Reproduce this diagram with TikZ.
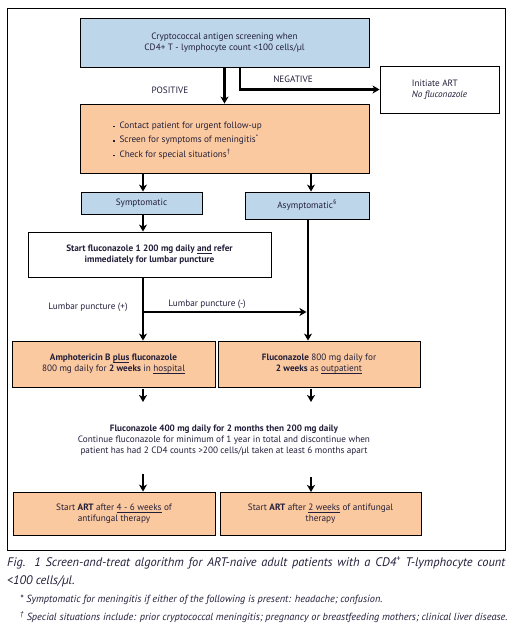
\documentclass[tikz,border=0pt]{standalone}
\usepackage{fontspec}
\setmainfont{PT Sans}
\usetikzlibrary{arrows.meta,calc}
\definecolor{bluebox}{RGB}{190,214,234}
\definecolor{orangebox}{RGB}{251,201,159}
\definecolor{txt}{RGB}{35,31,58}
\newcommand\sqbul{\rule[1pt]{1.8pt}{1.8pt}\hspace{4.5pt}}
\newcommand\ulx[1]{\underline{\smash{#1}}}
\begin{document}
\begin{tikzpicture}[x=1pt,y=-1pt,
  box/.style={draw=black,line width=0.9pt,inner sep=2pt,align=center,
    font=\fontsize{9.2}{11}\selectfont,text=txt},
  bluefill/.style={box,fill=bluebox},
  orangefill/.style={box,fill=orangebox},
  whitefill/.style={box,fill=white},
  arr/.style={line width=2.3pt,-{Stealth[length=7pt,width=8pt,inset=2pt]}},
  lbl/.style={font=\fontsize{9.2}{11}\selectfont,text=txt,inner sep=0pt},
  captext/.style={font=\fontsize{12.4}{18}\itshape\selectfont,text=txt,inner sep=0pt,anchor=base west},
  foot/.style={font=\fontsize{10.3}{18}\itshape\selectfont,text=txt,inner sep=0pt,anchor=base west}
]
\useasboundingbox (0,0) rectangle (519,627);
\fill[white] (0,0) rectangle (519,627);
\node[draw=black,line width=1pt,minimum width=498pt,minimum height=542pt,inner sep=0pt] (frame) at (256,279) {};

\node[bluefill,minimum width=289pt,minimum height=49pt] (top) at (224.5,42.5)
  {Cryptococcal antigen screening when\\CD4+ T - lymphocyte count <100 cells/µl};
\node[whitefill,minimum width=119pt,minimum height=47pt,align=left] (init) at (439.5,89.5)
  {Initiate ART\\\textit{No fluconazole}};
\node[orangefill,minimum width=289pt,minimum height=69pt] (screen) at (224.5,138.5) {};
\node[lbl,anchor=west,align=left,font=\fontsize{9.2}{14.5}\selectfont] (bul) at (113,140.5)
  {\sqbul Contact patient for urgent follow-up\\
   \sqbul Screen for symptoms of meningitis\textsuperscript{*}\\
   \sqbul Check for special situations\textsuperscript{†}};
\node[bluefill,minimum width=121pt,minimum height=22pt] (symp) at (141.5,203) {Symptomatic};
\node[bluefill,minimum width=124pt,minimum height=27pt] (asym) at (307,205.5) {Asymptomatic\textsuperscript{§}};
\node[whitefill,minimum width=243pt,minimum height=45pt,font=\fontsize{9.2}{11}\bfseries\selectfont] (start) at (149.5,254.5)
  {Start fluconazole 1 200 mg daily \ulx{and} refer\\immediately for lumbar puncture};
\node[orangefill,minimum width=203pt,minimum height=46pt] (ampho) at (113.5,364)
  {\textbf{Amphotericin B \ulx{plus} fluconazole}\\800 mg daily for \textbf{2 weeks} in \ulx{hospital}};
\node[orangefill,minimum width=202pt,minimum height=46pt] (fluc) at (319,364)
  {\textbf{Fluconazole} 800 mg daily for\\\textbf{2 weeks} as \ulx{outpatient}};
\node[lbl,align=center] (cont) at (224,440)
  {\textbf{Fluconazole 400 mg daily for 2 months then 200 mg daily}\\
   Continue fluconazole for minimum of 1 year in total and discontinue when\\
   patient has had 2 CD4 counts >200 cells/µl taken at least 6 months apart};
\node[orangefill,minimum width=202pt,minimum height=43pt] (artl) at (114,513.5)
  {Start \textbf{ART} after \ulx{4 - 6 weeks} of\\antifungal therapy};
\node[orangefill,minimum width=201pt,minimum height=43pt] (artr) at (320.5,513.5)
  {Start \textbf{ART} after \ulx{2 weeks} of antifungal\\therapy};

% labels
\node[lbl] (pos) at (170,90) {POSITIVE};
\node[lbl] (neg) at (293,79) {NEGATIVE};
\node[lbl] (lpp) at (88,307) {Lumbar puncture (+)};
\node[lbl] (lpm) at (207,304) {Lumbar puncture (-)};

% connectors
\draw[arr] (top.south) -- (screen.north);
\draw[arr] ([xshift=15.5pt]top.south) |- (init.west);
\draw[arr] ([xshift=1.5pt]symp.north |- screen.south) -- ([xshift=1.5pt]symp.north);
\draw[arr] ([xshift=4pt]asym.north |- screen.south) -- ([xshift=4pt]asym.north);
\draw[arr] ([xshift=1.5pt]symp.south) -- ([xshift=1.5pt]symp.south |- start.north);
\draw[arr] ([xshift=1.5pt]symp.south |- start.south) -- ([xshift=1.5pt]symp.south |- ampho.north);
\coordinate (br) at (143,312);
\draw[arr] (br) -- ([xshift=-0.5pt]br -| asym.south);
\draw[arr] ([xshift=1pt]asym.south) -- ([xshift=1pt]asym.south |- fluc.north);
\coordinate (a1) at (143,388.5); \coordinate (a2) at (143,402);
\coordinate (b1) at (311,388.5); \coordinate (b2) at (311,402);
\draw[arr] (a1) -- (a2);
\draw[arr] (b1) -- (b2);
\coordinate (c1) at (143,474); \coordinate (c2) at ([xshift=1.5pt]symp.south |- artl.north);
\coordinate (d1) at (311,477); \coordinate (d2) at (311,492);
\draw[arr] (c1) -- (c2);
\draw[arr] (d1) -- (d2);

% caption
\node[captext] (cap1) at (7,566) {\makebox[498pt][s]{Fig. 1 Screen-and-treat algorithm for ART-naive adult patients with a CD4\textsuperscript{+} T-lymphocyte count}};
\node[captext] (cap2) at (7,584) {<100 cells/µl.};
\node[foot] (f1) at (20,602) {* Symptomatic for meningitis if either of the following is present: headache; confusion.};
\node[foot] (f2) at (20,620) {\textsuperscript{†} Special situations include: prior cryptococcal meningitis; pregnancy or breastfeeding mothers; clinical liver disease.};
\end{tikzpicture}
\end{document}
